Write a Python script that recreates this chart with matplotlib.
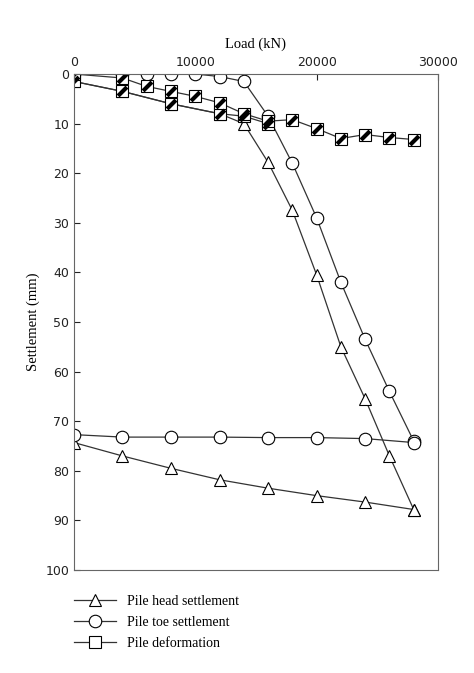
import matplotlib
matplotlib.use("Agg")
import matplotlib.pyplot as plt
from matplotlib.lines import Line2D

head_load_x = [0, 4000, 8000, 12000, 14000, 16000, 18000, 20000, 22000, 24000, 26000, 28000]
head_load_y = [1.5, 3.5, 6, 8, 10, 17.8, 27.5, 40.5, 55, 65.5, 77, 87.8]
head_unload_x = [28000, 24000, 20000, 16000, 12000, 8000, 4000, 0]
head_unload_y = [87.8, 86.3, 85, 83.5, 81.8, 79.5, 77, 74.3]
toe_load_x = [0, 4000, 6000, 8000, 10000, 12000, 14000, 16000, 18000, 20000, 22000, 24000, 26000, 28000]
toe_load_y = [0, 0, 0, 0, 0, 0.5, 1.5, 8.5, 18, 29, 42, 53.5, 64, 74]
toe_unload_x = [28000, 24000, 20000, 16000, 12000, 8000, 4000, 0]
toe_unload_y = [74.3, 73.5, 73.3, 73.3, 73.2, 73.2, 73.2, 72.7]
def_load_x = [0, 4000, 6000, 8000, 10000, 12000, 14000, 16000, 18000, 20000, 22000, 24000, 26000, 28000]
def_load_y = [0, 0.8, 2.5, 3.5, 4.5, 5.8, 8, 9.5, 9.2, 11, 13, 12.2, 12.8, 13.2]
def_low_x = [0, 4000, 8000, 12000, 14000, 16000]
def_low_y = [1.5, 3.5, 6, 8, 8.5, 10]

fig = plt.figure(figsize=(4.74, 6.73), dpi=100)
ax = fig.add_axes([0.156, 0.153, 0.768, 0.737])
lw = 0.9
tri = dict(marker='^', ms=8, mfc='white', mec='black', mew=0.8, color='#333333', lw=lw)
cir = dict(marker='o', ms=9, mfc='white', mec='black', mew=0.8, color='#333333', lw=lw)
sq = dict(marker='s', ms=8.5, mfc='white', mec='black', mew=0.8, color='#333333', lw=lw)

ax.plot(head_load_x, head_load_y, **tri)
ax.plot(head_unload_x, head_unload_y, **tri)
ax.plot(toe_load_x, toe_load_y, **cir)
ax.plot(toe_unload_x, toe_unload_y, **cir)
ax.plot(def_low_x, def_low_y, **sq)
ax.plot(def_load_x, def_load_y, **sq)
for xs, ys in [(def_low_x, def_low_y), (def_load_x, def_load_y)]:
    ax.plot(xs, ys, ls='none', marker=(2, 0, -45), ms=9, mec='black', mew=3)

ax.set_xlim(0, 30000)
ax.set_ylim(100, 0)
ax.xaxis.tick_top()
ax.xaxis.set_label_position('top')
ax.set_xticks([0, 10000, 20000, 30000])
ax.set_yticks(range(0, 101, 10))
ax.tick_params(labelsize=9, direction='in', length=4, colors='#222222')
for s in ax.spines.values():
    s.set_color('#666666')
ax.set_xlabel('Load (kN)', family='Liberation Serif', fontsize=10.5, labelpad=6)
ax.set_ylabel('Settlement (mm)', family='Liberation Serif', fontsize=10.5)

handles = [Line2D([], [], **tri), Line2D([], [], **cir), Line2D([], [], **sq)]
fig.legend(handles, ['Pile head settlement', 'Pile toe settlement', 'Pile deformation'],
           loc='upper left', bbox_to_anchor=(0.13, 0.135), frameon=False,
           prop={'family': 'Liberation Serif', 'size': 10}, handlelength=3, labelspacing=0.6)
fig.savefig('out.png', dpi=100)
